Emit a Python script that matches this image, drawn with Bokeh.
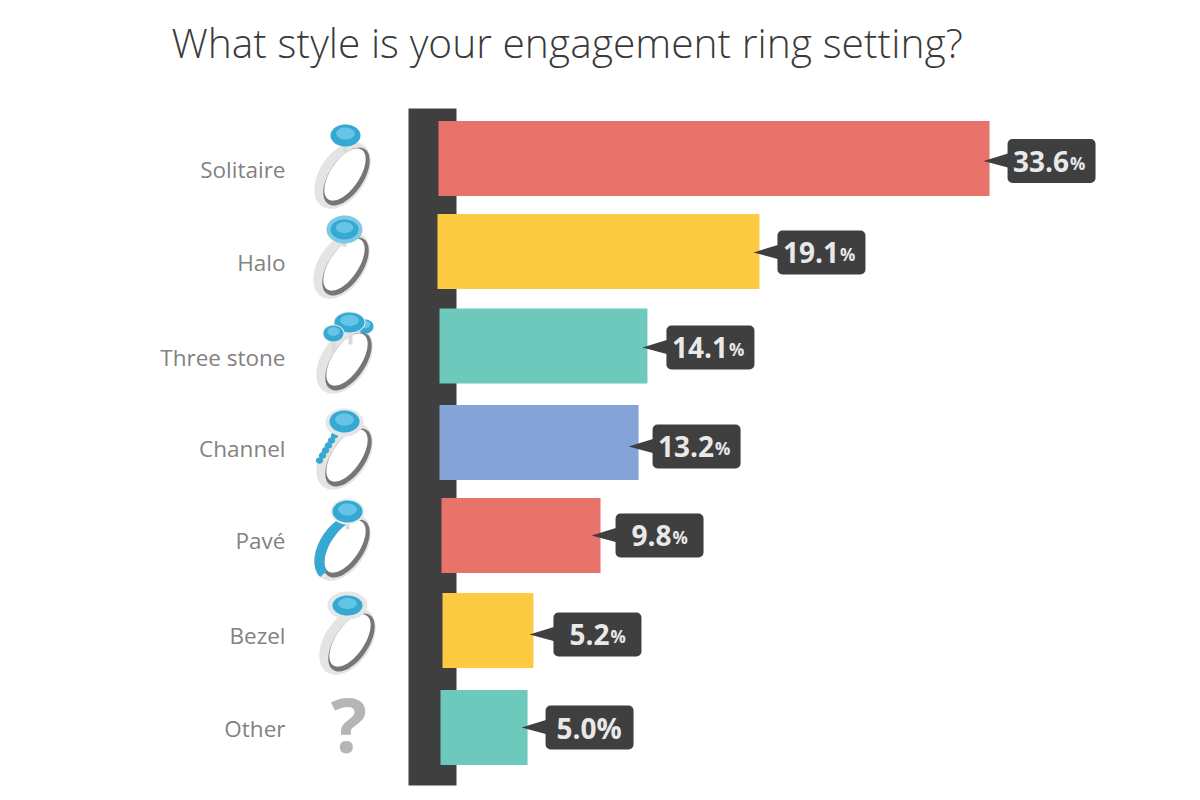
import numpy as np
from bokeh.core.properties import value
from bokeh.embed import file_html
from bokeh.models import FixedTicker, LinearAxis, Range1d
from bokeh.plotting import figure
from bokeh.resources import INLINE

# ---- data ----
categories = ["Solitaire", "Halo", "Three stone", "Channel", "Pavé", "Bezel", "Other"]
value_texts = ["33.6", "19.1", "14.1", "13.2", "9.8", "5.2", "5.0%"]
unit_texts = ["%", "%", "%", "%", "%", "%", ""]
# The drawn bars are not strictly proportional to their printed labels; these
# are the bar ends as they appear, on the scale set by the 33.6 bar.
bar_ends = [33.6, 19.57, 12.74, 12.2, 9.88, 5.79, 5.43]
bar_colors = ["#E8736A", "#FDCB41", "#6DC9BC", "#84A3D6", "#E8736A", "#FDCB41", "#6DC9BC"]

# ---- layout (page pixels) ----
F_L, F_R, F_T, F_B = 0, 1190, 72, 790
X0, PX_PER = 438.0, 16.4
Y0, ROW = 158.5, 94.83
row_nudge = [-0.5, -2.3, -2.7, -1, -2.8, -2.7, -0.5]
left_nudge = [0, -1, 1, 1, 3, 4, 2]
tag_gap = [18, 18, 19, 14, 15, 20, 18]
tag_cy = [160.5, 252, 347, 446, 535, 634, 727]
label_cy = [169, 262, 357, 448, 540, 635, 728]
DARK = "#3F3F40"
SANS = value("Open Sans")


def dx(px):
    return (np.asarray(px, dtype=float) - X0) / PX_PER


def dy(py):
    return (np.asarray(py, dtype=float) - Y0) / ROW


p = figure(
    width=1190, height=790, output_backend="svg", toolbar_location=None,
    x_range=Range1d(float(dx(F_L)), float(dx(F_R))),
    y_range=Range1d(float(dy(F_B)), float(dy(F_T))),
    x_axis_location=None, y_axis_location=None,
    min_border_left=0, min_border_right=0, min_border_top=F_T, min_border_bottom=0,
    outline_line_color=None, background_fill_color="white", border_fill_color="white",
)
p.grid.visible = False

p.title.text = "What style is your engagement ring setting?"
p.title.text_font = "Open Sans Light, Open Sans"
p.title.text_font_style = "normal"
p.title.text_font_size = "40.7px"
p.title.text_color = "#3A3A3A"
p.title.offset = 171
p.title.standoff = 6

# dark spine
p.quad(left=[float(dx(408))], right=[float(dx(456))], top=[float(dy(108))], bottom=[float(dy(785))],
       color=DARK, line_color=None)

# bars
rows = [i + n / ROW for i, n in enumerate(row_nudge)]
lefts = [n / PX_PER for n in left_nudge]
p.hbar(y=rows, left=lefts, right=bar_ends, height=75 / ROW, color=bar_colors, line_color=None)

# value tags
box_l = [X0 + e * PX_PER + g for e, g in zip(bar_ends, tag_gap)]
p.quad(left=dx(box_l).tolist(), right=dx([b + 88 for b in box_l]).tolist(),
       top=dy([c - 22 for c in tag_cy]).tolist(), bottom=dy([c + 22 for c in tag_cy]).tolist(),
       color=DARK, line_color=None, border_radius=5)
p.patches(
    xs=[dx([b - 24, b + 2, b + 2]).tolist() for b in box_l],
    ys=[dy([c, c - 8, c + 7]).tolist() for c in tag_cy],
    color=DARK, line_color=None,
)
for b, c, v, u in zip(box_l, tag_cy, value_texts, unit_texts):
    if u:
        nr = b + (61.5 if len(v) == 4 else 56)
        p.text([float(dx(nr))], [float(dy(c))], text=[v], text_align="right", text_baseline="middle",
               text_font=SANS, text_font_style="bold", text_font_size="28px", text_color="#E9E9E9")
        p.text([float(dx(nr + 1))], [float(dy(c + 2))], text=[u], text_align="left", text_baseline="middle",
               text_font=SANS, text_font_style="bold", text_font_size="17px", text_color="#E9E9E9")
    else:
        p.text([float(dx(b + 43.5))], [float(dy(c))], text=[v], text_align="center", text_baseline="middle",
               text_font=SANS, text_font_style="bold", text_font_size="28px", text_color="#E9E9E9")

# category labels on a real axis, held in place at the spine
ticks = [round(float(dy(c)), 4) for c in label_cy]
axis = LinearAxis(
    fixed_location=float(dx(408)),
    ticker=FixedTicker(ticks=ticks),
    major_label_overrides=dict(zip(ticks, categories)),
    axis_line_color=None, major_tick_line_color=None, minor_tick_line_color=None,
    major_label_standoff=117,
    major_label_text_font="Open Sans", major_label_text_font_size="22.5px",
    major_label_text_color="#828282",
)
p.add_layout(axis, "left")


# ---- ring icons, drawn in page pixels ----
def ell(cx, cy, a, b, deg=0.0, t0=0.0, t1=360.0, n=60):
    t = np.radians(np.linspace(t0, t1, n))
    r = np.radians(deg)
    x = a * np.cos(t)
    y = b * np.sin(t)
    return cx + x * np.cos(r) + y * np.sin(r), cy - x * np.sin(r) + y * np.cos(r)


def blob(cx, cy, a, b, color, deg=0.0):
    x, y = ell(cx, cy, a, b, deg)
    p.patch(dx(x), dy(y), color=color, line_color=None)


def ring(cx, cy, deg=56):
    blob(cx, cy, 37, 23, "#E4E4E4", deg)
    blob(cx + 4, cy + 1, 33, 17, "#767676", deg)
    blob(cx + 2.5, cy - 1, 30, 14.5, "#FFFFFF", deg)


def gem(cx, cy, a=15, b=11, halo=None):
    if halo:
        blob(cx, cy, a + halo, b + halo, "#EDEDED")
    blob(cx, cy, a, b, "#36A9D3")
    blob(cx, cy - 2, a * 0.62, b * 0.55, "#66C4E6")


def prong(cx, top):
    p.patch(dx([cx - 2, cx + 2, cx + 2, cx - 2]), dy([top, top, top + 14, top + 14]),
            color="#DADADA", line_color=None)


# Solitaire
ring(342, 175)
prong(345, 138)
gem(345, 135)
# Halo
ring(341, 265)
prong(344, 232)
blob(344, 229, 18, 14, "#7CCBE6")
gem(344, 229, 14, 10)
# Three stone
ring(344, 360)
prong(333, 338)
prong(350, 330)
gem(365, 326, 8, 7)
gem(349, 322, 15, 10, halo=1)
gem(333, 333, 10, 8, halo=1)
# Channel
ring(344, 456)
for bx, by in [(319, 460), (322, 455), (325, 450), (328, 445), (331, 440), (334, 435)]:
    blob(bx, by, 3.6, 3.2, "#36A9D3")
blob(344, 422, 19, 14, "#E6E6E6")
gem(344, 421, 15, 11)
# Pavé
ring(342, 547)
ox, oy = ell(342, 547, 37, 23, 56, 185, 345, 40)
ix, iy = ell(344.5, 546, 30, 14.5, 56, 345, 185, 40)
p.patch(dx(np.r_[ox, ix]), dy(np.r_[oy, iy]), color="#36A9D3", line_color=None)
prong(347, 515)
gem(347, 511, 15, 11, halo=2)
# Bezel
ring(347, 641)
blob(347, 605, 20, 14, "#E6E6E6")
gem(347, 605, 15, 10)

# Other
p.text([float(dx(348.5))], [float(dy(723))], text=["?"], text_align="center", text_baseline="middle",
       text_font=SANS, text_font_style="bold", text_font_size="76px", text_color="#B5B5B5")

open("out.html", "w").write(file_html(p, INLINE))
